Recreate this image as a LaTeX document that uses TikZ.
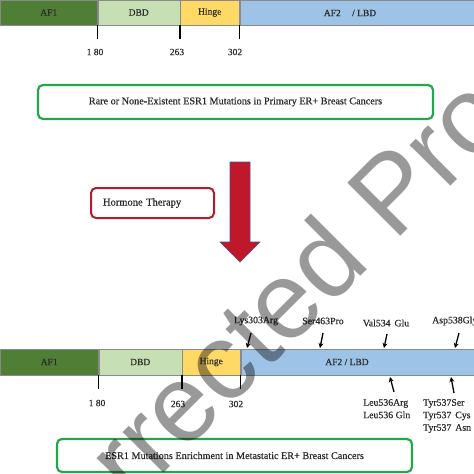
\documentclass[tikz,border=0pt]{standalone}
\usepackage{fontspec}
\setmainfont{Liberation Serif}[FakeBold=0.4]
\newfontfamily\wmfont{Liberation Sans}
\usetikzlibrary{arrows.meta}
\definecolor{afone}{HTML}{4F7F35}
\definecolor{dbd}{HTML}{C6E0B4}
\definecolor{hinge}{HTML}{FFD966}
\definecolor{aftwo}{HTML}{9DC3E6}
\definecolor{barline}{HTML}{8A8A8A}
\definecolor{txt}{HTML}{2A2A2A}
\definecolor{gboxc}{HTML}{22A84A}
\definecolor{rboxc}{HTML}{B01E2C}
\definecolor{rarrow}{HTML}{C0182B}
\definecolor{rarrowline}{HTML}{5A4A8A}
\begin{document}
\begin{tikzpicture}[x=1pt,y=-1pt,
  seg/.style={draw=barline, line width=0.5pt, inner sep=0pt, minimum height=25pt, anchor=west, text=txt, font=\fontsize{9.5}{10}\selectfont},
  bartext/.style={inner sep=0pt, text=txt, font=\fontsize{9.5}{10}\selectfont},
  tick/.style={line width=1.4pt, black},
  num/.style={inner sep=0pt, text=txt, font=\fontsize{9.5}{10}\selectfont},
  gbox/.style={draw=gboxc, line width=2.2pt, rounded corners=5pt, text=txt, font=\fontsize{10.2}{11}\selectfont},
  rbox/.style={draw=rboxc, line width=2pt, rounded corners=5pt, text=txt, font=\fontsize{10.5}{11}\selectfont},
  mlabel/.style={inner sep=0pt, text=txt, font=\fontsize{9.8}{12.5}\selectfont},
  mutarrow/.style={line width=1.3pt, black, -{Stealth[length=5pt,width=5pt]}},
  wm/.style={inner sep=0pt, text=black, text opacity=0.4, font=\wmfont\fontsize{109}{109}\selectfont, rotate=45}
]
\useasboundingbox (0,0) rectangle (474,474);
\fill[white] (0,0) rectangle (474,474);

% top bar
\node[seg, fill=afone, minimum width=97pt] (t1) at (0,12.5) {AF1};
\node[seg, fill=dbd, minimum width=82pt] (t2) at (t1.east) {DBD};
\node[seg, fill=hinge, minimum width=59pt] (t3) at (t2.east) {Hinge};
\node[seg, fill=aftwo, minimum width=240pt] (t4) at (t3.east) {};
\node[bartext] (t4l) at (350,13) {AF2\hspace{1.2em}/ LBD};
\draw[tick] (t1.south east) -- ++(0,14);
\draw[tick] (t2.south east) -- ++(0,14);
\draw[tick] (t3.south east) -- ++(0,14);
\node[num] (n1) at (95,52) {1 80};
\node[num] (n2) at (177,52) {263};
\node[num] (n3) at (235,52) {302};

% green box 1
\node[gbox, minimum width=395pt, minimum height=34pt] (g1) at (235.5,102) {Rare or None-Existent ESR1 Mutations in Primary ER+ Breast Cancers};

% hormone therapy
\node[rbox, minimum height=30pt, inner xsep=12pt, text width=99pt, align=left] (ht) at (152.5,203) {Hormone Therapy};

% red arrow
\draw[fill=rarrow, draw=rarrowline, line width=0.6pt] (230,162) -- (250,162) -- (250,242) -- (260,242) -- (240,262) -- (220,242) -- (230,242) -- cycle;

% bottom bar
\node[seg, fill=afone, minimum width=98pt, minimum height=26pt] (b1) at (0,362) {AF1};
\node[seg, fill=dbd, minimum width=83pt, minimum height=26pt] (b2) at (b1.east) {DBD};
\node[seg, fill=hinge, minimum width=58pt, minimum height=26pt] (b3) at (b2.east) {Hinge};
\node[seg, fill=aftwo, minimum width=240pt, minimum height=26pt] (b4) at (b3.east) {};
\node[bartext] (b4l) at (347,362) {AF2 / LBD};
\draw[tick] (b1.south east) -- ++(0,14);
\draw[tick] (b2.south east) -- ++(0,14);
\draw[tick] (b3.south east) -- ++(0,14);
\node[num] (m1) at (97,403) {1 80};
\node[num] (m2) at (178,404) {263};
\node[num] (m3) at (236,404) {302};

% mutation labels
\node[mlabel] (lys) at (256,321) {Lys303Arg};
\node[mlabel] (ser) at (323,321) {Ser463Pro};
\node[mlabel] (val) at (386,323) {Val534\hspace{0.4em}Glu};
\node[mlabel, anchor=west] (asp) at (432,321) {Asp538Gly};
\node[mlabel, anchor=north west, align=left] (leu) at (363,399) {Leu536Arg\\Leu536 Gln};
\node[mlabel, anchor=north west, align=left] (tyr) at (423,399) {Tyr537Ser\\Tyr537\hspace{0.4em}Cys\\Tyr537\hspace{0.4em}Asn};

\coordinate (a1s) at (251,333); \coordinate (a1e) at (247,348);
\coordinate (a2s) at (323,333); \coordinate (a2e) at (320,348);
\coordinate (a3s) at (387,334); \coordinate (a3e) at (384,348);
\coordinate (a4s) at (459,333); \coordinate (a4e) at (455,348);
\coordinate (a5s) at (394,392); \coordinate (a5e) at (390,377);
\coordinate (a6s) at (454,393); \coordinate (a6e) at (451,377);
\draw[mutarrow] (a1s) -- (a1e);
\draw[mutarrow] (a2s) -- (a2e);
\draw[mutarrow] (a3s) -- (a3e);
\draw[mutarrow] (a4s) -- (a4e);
\draw[mutarrow] (a5s) -- (a5e);
\draw[mutarrow] (a6s) -- (a6e);

% green box 2
\node[gbox, minimum width=355pt, minimum height=33pt] (g2) at (234.5,455.5) {ESR1 Mutations Enrichment in Metastatic ER+ Breast Cancers};

% watermark
\begin{scope}
\clip (0,0) rectangle (474,474);
\node[wm, anchor=base west] (wmp) at (394,243) {Proof};
\node[wm, anchor=base east] (wmc) at (wmp.base west) {Corrected\hspace*{0.278em}};
\end{scope}
\end{tikzpicture}
\end{document}
